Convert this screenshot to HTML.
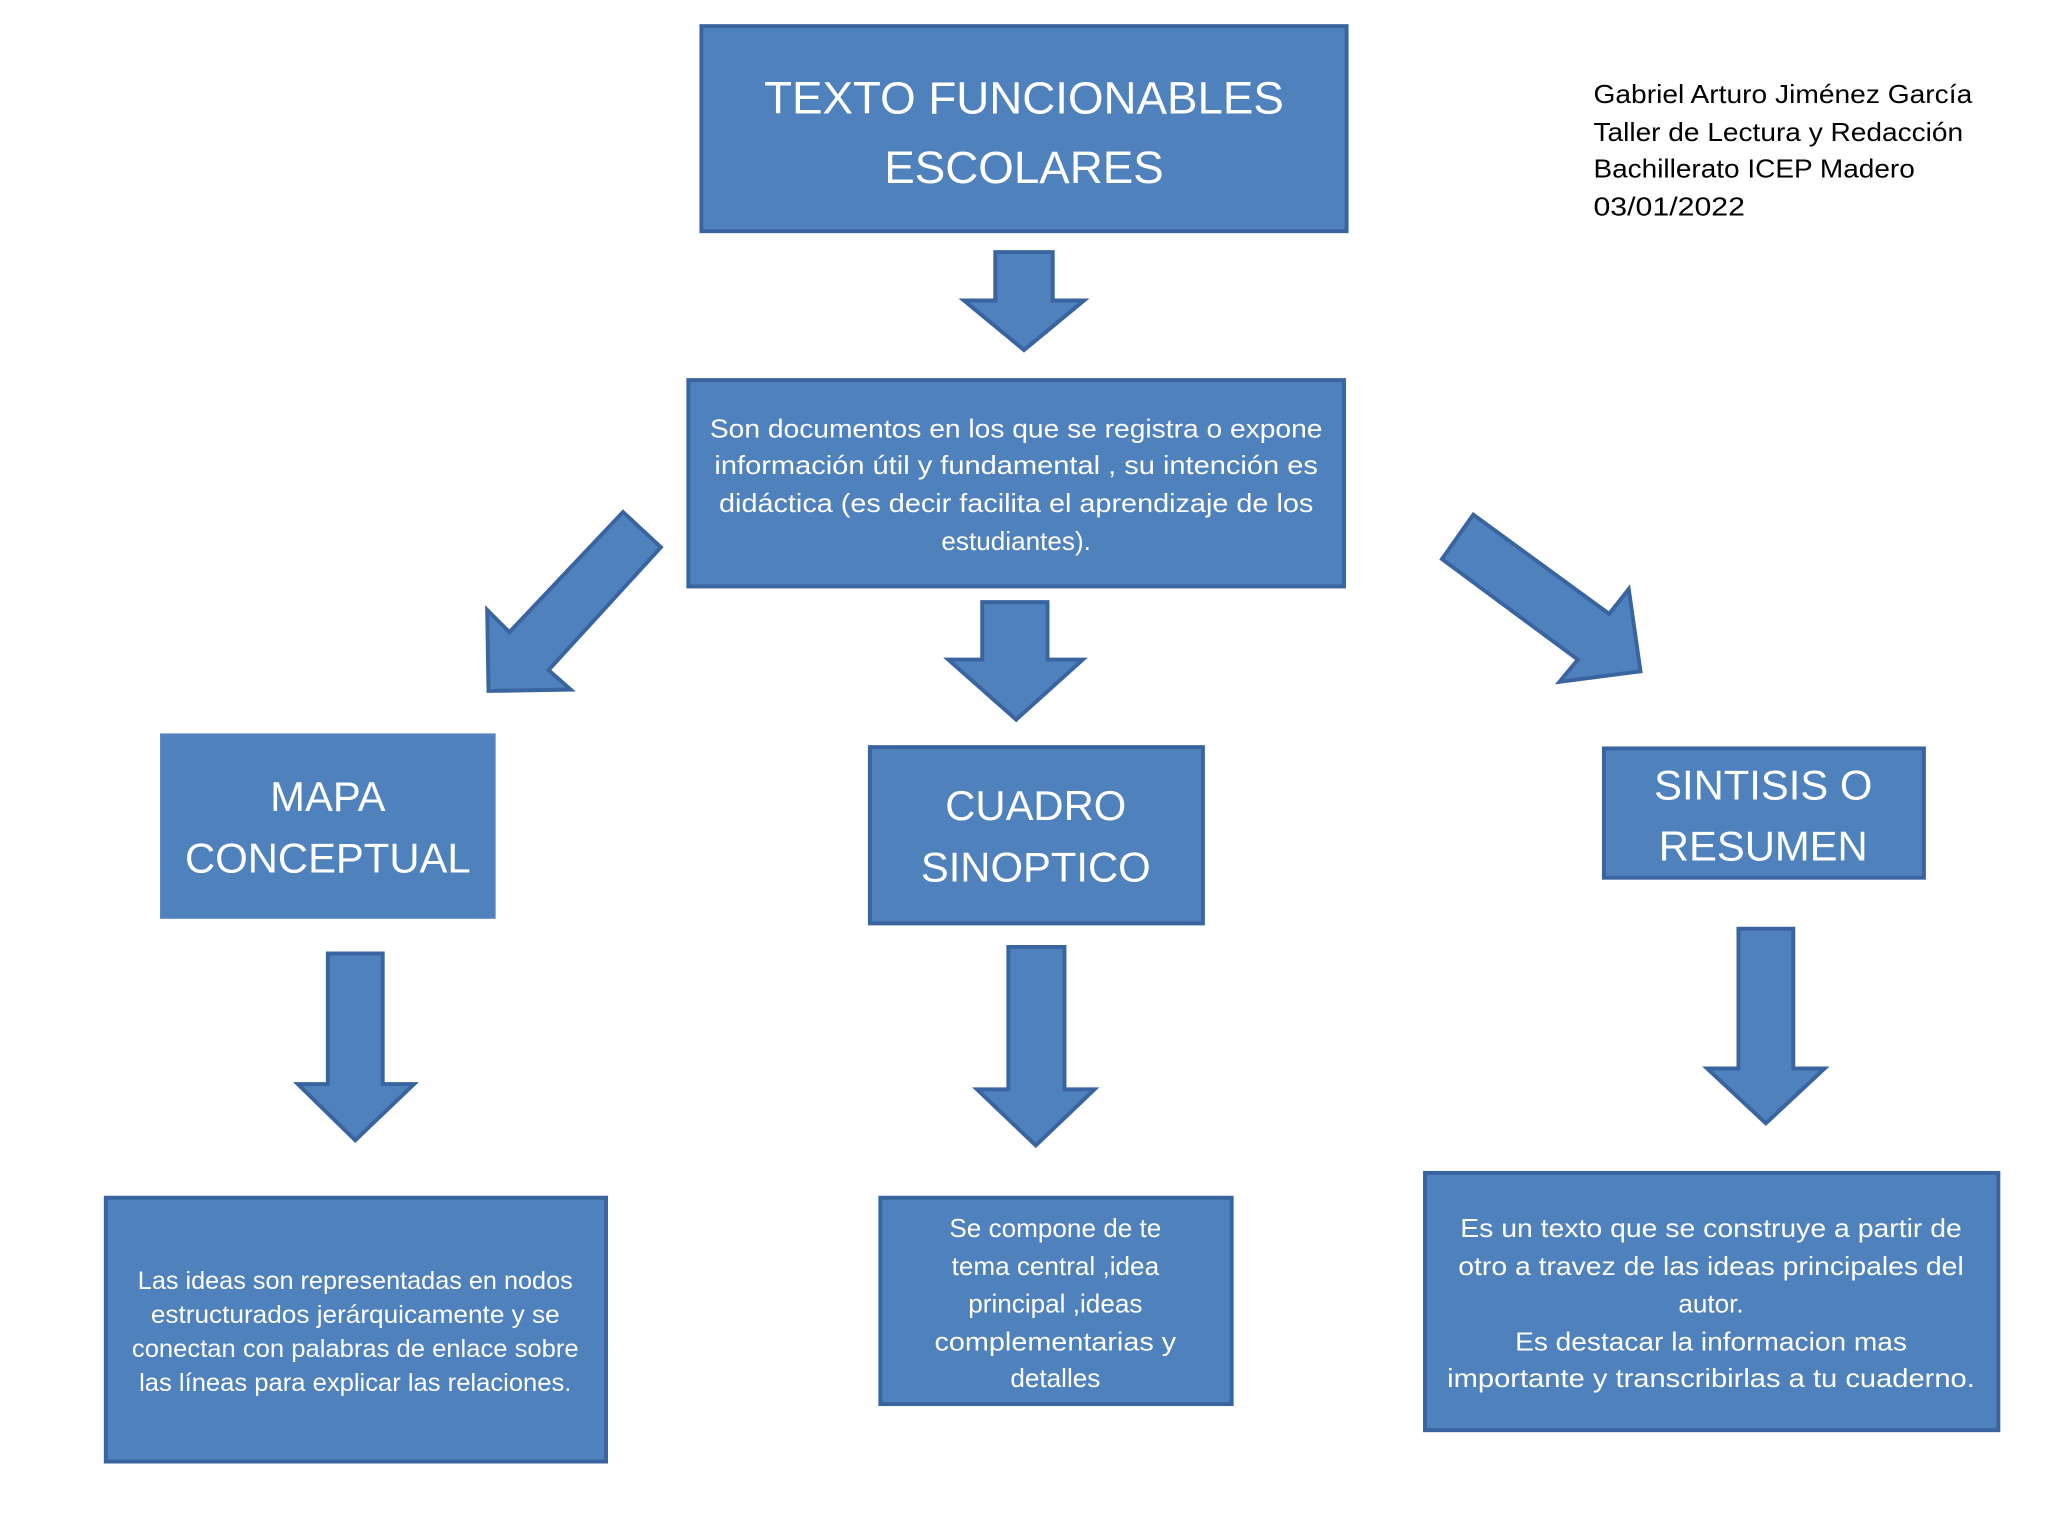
<!DOCTYPE html>
<html><head><meta charset="utf-8"><style>html,body{margin:0;padding:0;background:#fff}svg{display:block}</style></head>
<body>
<svg width="2048" height="1536" viewBox="0 0 1568 1176" preserveAspectRatio="none" xmlns="http://www.w3.org/2000/svg" font-family="Liberation Sans, sans-serif">
<g fill="#4f81bd" stroke="#3a64a0" stroke-width="3">
<rect x="537" y="20" width="494" height="157"/>
<rect x="527" y="291" width="502" height="158"/>
<rect x="123" y="562" width="256" height="141" stroke="#5a8ac4" stroke-width="1"/>
<rect x="666" y="572" width="255" height="135"/>
<rect x="1228" y="573" width="245" height="99"/>
<rect x="81" y="917" width="383" height="202"/>
<rect x="674" y="917" width="269" height="158"/>
<rect x="1091" y="898" width="439" height="197"/>
<polygon points="762,193 806,193 806,230 830,230 784,268 738,230 762,230"/>
<polygon points="752,461 802,461 802,505 829,505 778,551 726,505 752,505"/>
<polygon points="477,392 506,419 420,513 437,528 374,529 373,467 390,484"/>
<polygon points="1128,394 1104,428 1208,505 1194,522 1256,514 1247,451 1232,470"/>
<polygon points="251,730 293,730 293,830 317,830 272,873 228,830 251,830"/>
<polygon points="772,725 815,725 815,834 838,834 793,877 748,834 772,834"/>
<polygon points="1331,711 1373,711 1373,818 1397,818 1352,860 1307,818 1331,818"/>
</g>
<g fill="#fff" text-anchor="middle">
<text font-size="35" x="784" y="87">TEXTO FUNCIONABLES</text>
<text font-size="35" x="784" y="140">ESCOLARES</text>
<g font-size="20">
<text x="778" y="335" textLength="469" lengthAdjust="spacingAndGlyphs">Son documentos en los que se registra o expone</text>
<text x="778" y="363" textLength="462" lengthAdjust="spacingAndGlyphs">información útil y fundamental , su intención es</text>
<text x="778" y="392" textLength="455" lengthAdjust="spacingAndGlyphs">didáctica  (es decir facilita el aprendizaje de los</text>
<text x="778" y="421">estudiantes).</text>
</g>
<g font-size="32">
<text x="251" y="621">MAPA</text>
<text x="251" y="668">CONCEPTUAL</text>
<text x="793" y="628">CUADRO</text>
<text x="793" y="675">SINOPTICO</text>
<text x="1350" y="612">SINTISIS O</text>
<text x="1350" y="659">RESUMEN</text>
</g>
<g font-size="19">
<text x="272" y="987" textLength="333" lengthAdjust="spacingAndGlyphs">Las ideas son representadas en nodos</text>
<text x="272" y="1013" textLength="313" lengthAdjust="spacingAndGlyphs">estructurados jerárquicamente y se</text>
<text x="272" y="1039" textLength="342" lengthAdjust="spacingAndGlyphs">conectan con palabras de enlace sobre</text>
<text x="272" y="1065" textLength="331" lengthAdjust="spacingAndGlyphs">las líneas  para explicar las relaciones.</text>
</g>
<g font-size="20">
<text x="808" y="947">Se compone de te</text>
<text x="808" y="976">tema central ,idea</text>
<text x="808" y="1005">principal ,ideas</text>
<text x="808" y="1034" textLength="185" lengthAdjust="spacingAndGlyphs">complementarias y</text>
<text x="808" y="1062">detalles</text>
<text x="1310" y="947" textLength="384" lengthAdjust="spacingAndGlyphs">Es un texto que se construye a partir de</text>
<text x="1310" y="976" textLength="387" lengthAdjust="spacingAndGlyphs">otro a travez de las ideas principales del</text>
<text x="1310" y="1005">autor.</text>
<text x="1310" y="1034" textLength="300" lengthAdjust="spacingAndGlyphs">Es destacar la informacion mas</text>
<text x="1310" y="1062" textLength="404" lengthAdjust="spacingAndGlyphs">importante y transcribirlas a tu cuaderno.</text>
</g>
</g>
<g fill="#000" font-size="20">
<text x="1220" y="79" textLength="290" lengthAdjust="spacingAndGlyphs">Gabriel Arturo Jiménez García</text>
<text x="1220" y="108" textLength="283" lengthAdjust="spacingAndGlyphs">Taller de Lectura y Redacción</text>
<text x="1220" y="136" textLength="246" lengthAdjust="spacingAndGlyphs">Bachillerato ICEP Madero</text>
<text x="1220" y="165" textLength="116" lengthAdjust="spacingAndGlyphs">03/01/2022</text>
</g>
</svg>
</body></html>
